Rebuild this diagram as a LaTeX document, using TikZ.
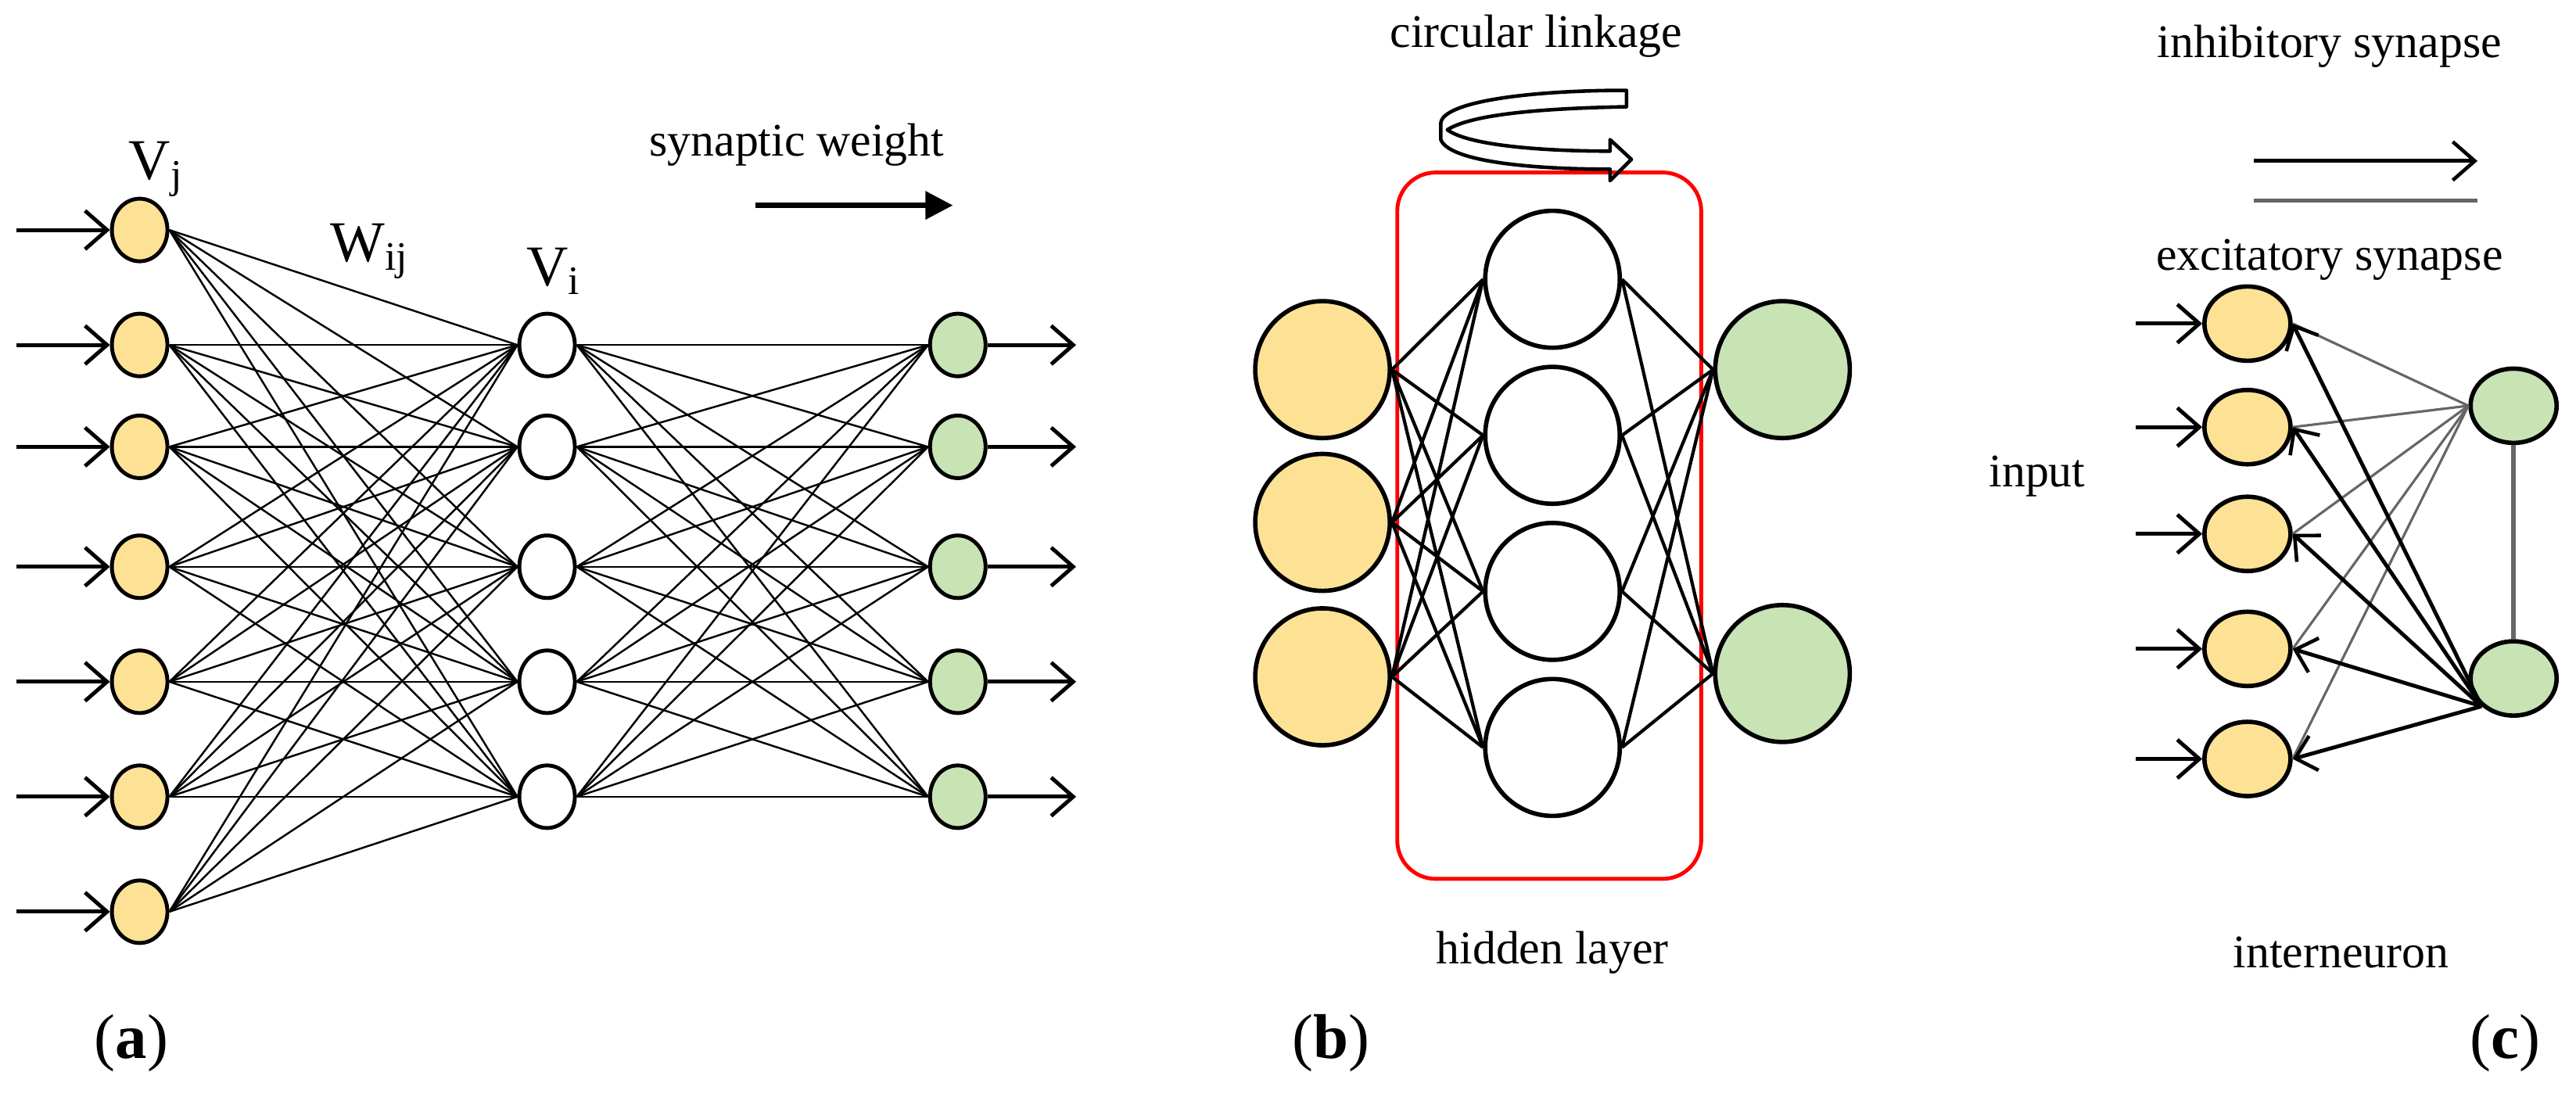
\documentclass[tikz,border=0pt]{standalone}
\usepackage{fontspec}
\setmainfont{Liberation Serif}
\usetikzlibrary{arrows.meta,shapes.geometric}
\definecolor{inY}{HTML}{FDE295}
\definecolor{outG}{HTML}{C8E3B4}
\begin{document}
\begin{tikzpicture}[x=0.021cm,y=-0.021cm,
  nodeS/.style={ellipse,draw=black,line width=1.4pt,inner sep=0pt},
  sm/.style={nodeS,minimum width=0.71cm,minimum height=0.8cm},
  big/.style={nodeS,minimum width=1.72cm,minimum height=1.75cm,line width=1.6pt},
  med/.style={nodeS,minimum width=1.1cm,minimum height=0.95cm,line width=1.6pt},
  lbl/.style={font=\fontsize{17}{19}\selectfont,inner sep=0pt},
  ptl/.style={font=\fontsize{23}{25}\selectfont,inner sep=0pt},
  wire/.style={line width=0.7pt},
  bwire/.style={line width=1.2pt},
  inarr/.style={line width=1.4pt,-{Straight Barb[length=8pt,width=14pt,line width=1.4pt]}},
  ]
\useasboundingbox (0,0) rectangle (1568,670);
% ---------- panel a ----------
\foreach \y [count=\i] in {140,210,272,345,415,485,555}{
  \node[sm,fill=inY] (a\i) at (85,\y) {};
  \coordinate (ai\i) at (10,\y);
  \draw[inarr] (ai\i) -- (a\i.west);
}
\foreach \y [count=\i] in {210,272,345,415,485}{
  \node[sm,fill=white] (h\i) at (333,\y) {};
  \node[sm,fill=outG] (o\i) at (583,\y) {};
  \coordinate (ao\i) at (655,\y);
  \draw[inarr] (o\i.east) -- (ao\i);
}
\foreach \i in {1,...,7}{\foreach \j in {1,...,5}{\draw[wire] (a\i.east) -- (h\j.west);}}
\foreach \i in {1,...,5}{\foreach \j in {1,...,5}{\draw[wire] (h\i.east) -- (o\j.west);}}
\node[font=\fontsize{21}{23}\selectfont,inner sep=0pt] (vj) at (95,103) {V$_{\mathrm{j}}$};
\node[font=\fontsize{21}{23}\selectfont,inner sep=0pt] (wij) at (225,153) {W$_{\mathrm{ij}}$};
\node[font=\fontsize{21}{23}\selectfont,inner sep=0pt] (vi) at (337,165) {V$_{\mathrm{i}}$};
\node[lbl] (sw) at (485,88) {synaptic weight};
\coordinate (swa) at (460,125); \coordinate (swb) at (580,125);
\draw[line width=1.8pt,-{Triangle[length=10pt,width=10pt]}] (swa) -- (swb);
\node[ptl] (pa) at (80,635) {(\textbf{a})};
% ---------- panel b ----------
\node[draw=red,line width=1.4pt,rounded corners=14pt,minimum width=185*0.021cm,minimum height=430*0.021cm] (box) at (943,320) {};
\foreach \y [count=\i] in {225,318,412}{\node[big,fill=inY] (b\i) at (805,\y) {};}
\foreach \y [count=\i] in {170,265,360,455}{\node[big,fill=white] (bh\i) at (945,\y) {};}
\foreach \y [count=\i] in {225,410}{\node[big,fill=outG] (bo\i) at (1085,\y) {};}
\foreach \i in {1,2,3}{\foreach \j in {1,...,4}{\draw[bwire] (b\i.east) -- (bh\j.west);}}
\foreach \i in {1,...,4}{\foreach \j in {1,2}{\draw[bwire] (bh\i.east) -- (bo\j.west);}}
\node[lbl] (cl) at (935,22) {circular linkage};
\node[lbl] (hl) at (945,580) {hidden layer};
\draw[line width=1.3pt,line join=round]
  (990,55) .. controls (930,55) and (878,62) .. (877,75) -- (877,85)
  .. controls (882,98) and (930,103) .. (980,103) -- (980,110) -- (993,97) -- (980,85) -- (980,92)
  .. controls (935,92) and (893,88) .. (881,79)
  .. controls (895,70) and (935,66) .. (990,65) -- cycle;
\node[ptl] (pb) at (810,635) {(\textbf{b})};
% ---------- panel c ----------
\foreach \y [count=\i] in {197,260,325,395,462}{
  \node[med,fill=inY] (c\i) at (1368,\y) {};
  \coordinate (ci\i) at (1300,\y);
  \draw[inarr] (ci\i) -- (c\i.west);
}
\node[med,fill=outG] (g1) at (1530,247) {};
\node[med,fill=outG] (g2) at (1530,413) {};
\draw[gray!80!black,line width=1.6pt] (g1) -- (g2);
\foreach \i in {1,...,5}{\draw[gray!80!black,line width=0.9pt] (g1.west) -- (c\i.east);}
\foreach \i in {1,...,5}{\draw[line width=1.4pt,-{Straight Barb[length=7pt,width=13pt,line width=1.3pt]}] (g2.south west) -- (c\i.east);}
\node[lbl] (inh) at (1418,28) {inhibitory synapse};
\coordinate (ia) at (1372,98); \coordinate (ib) at (1508,98);
\draw[line width=1.4pt,-{Straight Barb[length=8pt,width=14pt,line width=1.3pt]}] (ia) -- (ib);
\coordinate (ea) at (1372,122); \coordinate (eb) at (1508,122);
\draw[gray!80!black,line width=1.4pt] (ea) -- (eb);
\node[lbl] (exc) at (1418,158) {excitatory synapse};
\node[lbl] (inp) at (1240,290) {input};
\node[lbl] (itn) at (1425,580) {interneuron};
\node[ptl] (pc) at (1525,635) {(\textbf{c})};
\end{tikzpicture}
\end{document}
